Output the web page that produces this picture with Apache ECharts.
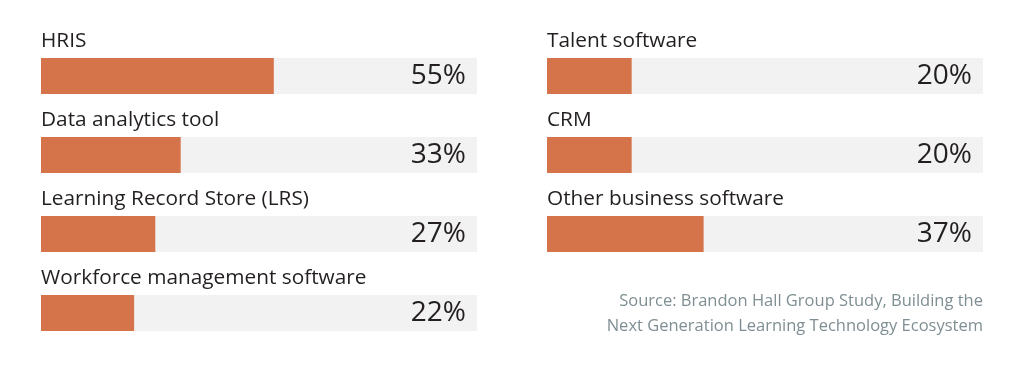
<!DOCTYPE html>
<html><head><meta charset="utf-8">
<script src="https://cdn.jsdelivr.net/npm/echarts@6/dist/echarts.min.js"></script>
<style>html,body{margin:0;padding:0;background:#fff;}#c{width:1024px;height:366px;}</style>
</head><body><div id="c"></div>
<script>
const leftCategories = ['HRIS', 'Data analytics tool', 'Learning Record Store (LRS)', 'Workforce management software'];
const leftValues = [55, 33, 27, 22];
const rightCategories = ['Talent software', 'CRM', 'Other business software'];
const rightValues = [20, 20, 37];
const axisMax = 103;
const sourceText = 'Source: Brandon Hall Group Study, Building the\nNext Generation Learning Technology Ecosystem';

const ORANGE = '#d5744b', TRACK = '#f1f2f1', INK = '#231f20';
const chart = echarts.init(document.getElementById('c'), null, {renderer: 'canvas'});

function barSeries(idx, cats, vals) {
  return [{
    type: 'bar', xAxisIndex: idx, yAxisIndex: idx, data: vals, barWidth: 36,
    itemStyle: {color: ORANGE},
    showBackground: true, backgroundStyle: {color: TRACK},
    label: {show: true, formatter: '{b}', position: [0, -6], align: 'left', verticalAlign: 'bottom',
            color: INK, fontSize: 20.8, fontFamily: 'Open Sans'},
    silent: true, animation: false, z: 2
  }, {
    // invisible full-width carrier for the right-aligned percentage text
    type: 'bar', xAxisIndex: idx, yAxisIndex: idx, data: vals.map(() => axisMax), barWidth: 36, barGap: '-100%',
    itemStyle: {color: 'rgba(0,0,0,0)'},
    label: {show: true, position: 'insideRight', distance: 11, formatter: p => vals[p.dataIndex] + '%',
            color: INK, fontSize: 28, fontFamily: 'Open Sans'},
    silent: true, animation: false, z: 3
  }];
}
chart.setOption({
  animation: false,
  title: {text: sourceText, left: 983, top: 289, textAlign: 'right', padding: 0,
          textStyle: {fontSize: 16.5, lineHeight: 25, color: '#7f8e93', fontWeight: 'normal', fontFamily: 'Open Sans'}},
  grid: [
    {left: 41, width: 436, top: 36.5, height: 316},
    {left: 547, width: 436, top: 36.5, height: 237}
  ],
  xAxis: [
    {gridIndex: 0, type: 'value', min: 0, max: axisMax, show: false},
    {gridIndex: 1, type: 'value', min: 0, max: axisMax, show: false}
  ],
  yAxis: [
    {gridIndex: 0, type: 'category', data: leftCategories, inverse: true, show: false},
    {gridIndex: 1, type: 'category', data: rightCategories, inverse: true, show: false}
  ],
  series: [...barSeries(0, leftCategories, leftValues), ...barSeries(1, rightCategories, rightValues)]
});
</script></body></html>
